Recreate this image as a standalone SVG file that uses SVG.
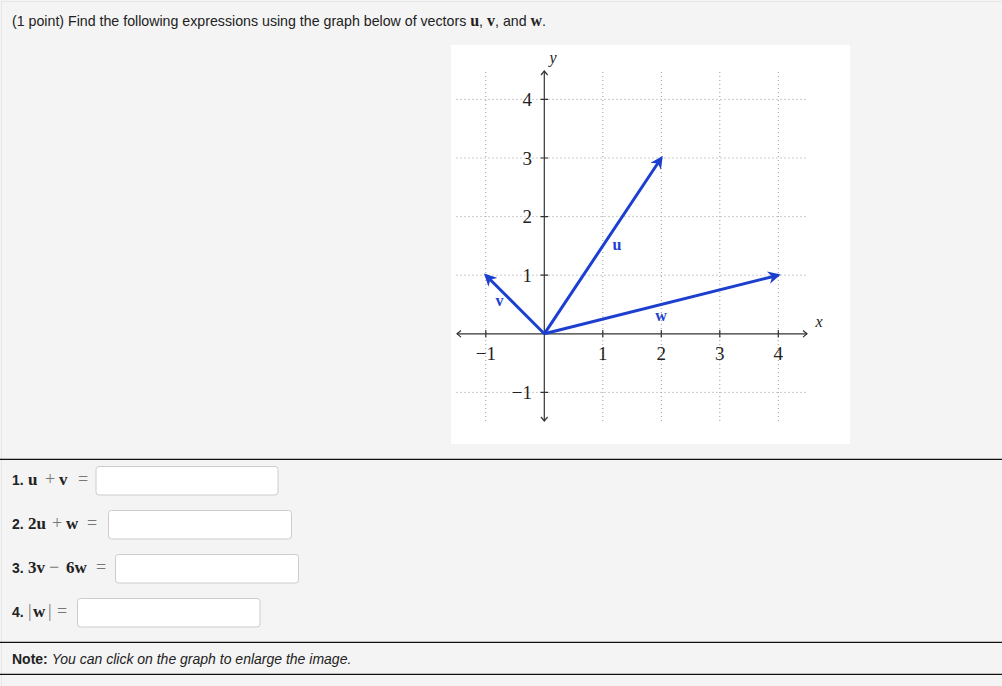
<svg xmlns="http://www.w3.org/2000/svg" width="1002" height="686" viewBox="0 0 1002 686">
<style>
.sans{font-family:"Liberation Sans",Arial,sans-serif;fill:#222}
.serif{font-family:"Liberation Serif","Times New Roman",serif}
.tick{font-family:"Liberation Serif","Times New Roman",serif;font-size:19px;fill:#222}
.grid{stroke:#999;stroke-width:1;stroke-dasharray:1 3;fill:none}
.axis{stroke:#333;stroke-width:1.2;fill:none}
.vec{stroke:#1c3fd0;stroke-width:3;fill:none;marker-end:url(#ah)}
.vlab{font-family:"Liberation Serif","Times New Roman",serif;font-weight:bold;font-size:16px;fill:#1c3fd0}
.mb{font-family:"Liberation Serif","Times New Roman",serif;font-weight:bold;font-size:17px;fill:#222}
.op{font-family:"Liberation Serif","Times New Roman",serif;font-size:18px;fill:#777}
.box{fill:#fff;stroke:#ccc;stroke-width:1}
.rule{stroke:#111;stroke-width:1.3}
</style>
<defs>
<marker id="ah" viewBox="0 0 10 10" refX="8" refY="5" markerWidth="4.2" markerHeight="4.2" orient="auto" markerUnits="strokeWidth">
<path d="M0,0 L10,5 L0,10 L3,5 Z" fill="#1c3fd0"/>
</marker>
</defs>
<rect x="0" y="0" width="1002" height="686" fill="#f4f4f4"/>
<path d="M1.5,686 V1.5 H1002" stroke="#e6e6e6" stroke-width="1" fill="none"/>
<text class="sans" x="12" y="26" font-size="14.2">(1 point) Find the following expressions using the graph below of vectors <tspan class="serif" font-weight="bold" font-size="16">u</tspan>, <tspan class="serif" font-weight="bold" font-size="16">v</tspan>, and <tspan class="serif" font-weight="bold" font-size="16">w</tspan>.</text>

<g id="graph">
<rect x="451" y="45" width="399" height="399" fill="#fff"/>
<g id="grid">
<path class="grid" d="M485.8,72 V421.7 M602.8,72 V421.7 M661.3,72 V421.7 M719.8,72 V421.7 M778.3,72 V421.7"/>
<path class="grid" d="M456.5,99.4 H807.6 M456.5,158 H807.6 M456.5,216.6 H807.6 M456.5,275.2 H807.6 M456.5,392.4 H807.6"/>
</g>
<g id="axes">
<path class="axis" d="M457,333.8 H807"/>
<path class="axis" d="M544.3,71 V421"/>
<path class="axis" d="M461,330.5 L457,333.8 L461,337.1 M803,330.5 L807,333.8 L803,337.1"/>
<path class="axis" d="M541,75 L544.3,71 L547.6,75 M541,417 L544.3,421 L547.6,417"/>
<path class="axis" d="M485.8,330 V337.6 M602.8,330 V337.6 M661.3,330 V337.6 M719.8,330 V337.6 M778.3,330 V337.6"/>
<path class="axis" d="M540.5,99.4 H548.1 M540.5,158 H548.1 M540.5,216.6 H548.1 M540.5,275.2 H548.1 M540.5,392.4 H548.1"/>
</g>
<g id="ticklabels">
<text class="tick" x="485.8" y="359.5" text-anchor="middle">−1</text>
<text class="tick" x="602.8" y="359.5" text-anchor="middle">1</text>
<text class="tick" x="661.3" y="359.5" text-anchor="middle">2</text>
<text class="tick" x="719.8" y="359.5" text-anchor="middle">3</text>
<text class="tick" x="778.3" y="359.5" text-anchor="middle">4</text>
<text class="tick" x="532" y="106" text-anchor="end">4</text>
<text class="tick" x="532" y="164.6" text-anchor="end">3</text>
<text class="tick" x="532" y="223.2" text-anchor="end">2</text>
<text class="tick" x="532" y="281.8" text-anchor="end">1</text>
<text class="tick" x="532" y="399" text-anchor="end">−1</text>
<text class="serif" x="553" y="63" font-size="16" font-style="italic" fill="#222" text-anchor="middle">y</text>
<text class="serif" x="819" y="327" font-size="16" font-style="italic" fill="#222" text-anchor="middle">x</text>
</g>
</g>

<g id="connectors">
<line class="vec" x1="544.3" y1="333.8" x2="661.3" y2="158"/>
<line class="vec" x1="544.3" y1="333.8" x2="485.8" y2="275.2"/>
<line class="vec" x1="544.3" y1="333.8" x2="778.3" y2="275.2"/>
</g>
<g id="node-u"><text class="vlab" x="617" y="250" text-anchor="middle">u</text></g>
<g id="node-v"><text class="vlab" x="499.5" y="306" text-anchor="middle">v</text></g>
<g id="node-w"><text class="vlab" x="661" y="321" text-anchor="middle">w</text></g>

<line class="rule" x1="0" y1="459.3" x2="1002" y2="459.3"/>

<g id="q1">
<text class="sans" x="12" y="485" font-size="14" font-weight="bold">1.</text>
<text class="mb" x="28" y="485">u</text><text class="op" x="45" y="485">+</text><text class="mb" x="59" y="485">v</text><text class="op" x="78" y="485">=</text>
<rect class="box" x="96" y="466.5" width="182" height="28.5" rx="3"/>
</g>
<g id="q2">
<text class="sans" x="12" y="529" font-size="14" font-weight="bold">2.</text>
<text class="mb" x="28" y="529">2u</text><text class="op" x="52" y="529">+</text><text class="mb" x="66" y="529">w</text><text class="op" x="87" y="529">=</text>
<rect class="box" x="108.5" y="510.5" width="183" height="28.5" rx="3"/>
</g>
<g id="q3">
<text class="sans" x="12" y="573" font-size="14" font-weight="bold">3.</text>
<text class="mb" x="28" y="573">3v</text><text class="op" x="49" y="573">−</text><text class="mb" x="66" y="573">6w</text><text class="op" x="96" y="573">=</text>
<rect class="box" x="115.5" y="554.5" width="183" height="28.5" rx="3"/>
</g>
<g id="q4">
<text class="sans" x="12" y="617" font-size="14" font-weight="bold">4.</text>
<text class="op" x="28" y="617">|</text><text class="mb" x="33" y="617">w</text><text class="op" x="48" y="617">|</text><text class="op" x="57" y="617">=</text>
<rect class="box" x="77.5" y="598.5" width="182.5" height="28.5" rx="3"/>
</g>

<line class="rule" x1="0" y1="642.3" x2="1002" y2="642.3"/>
<text class="sans" x="12" y="664" font-size="14"><tspan font-weight="bold">Note:</tspan> <tspan font-style="italic">You can click on the graph to enlarge the image.</tspan></text>
<line class="rule" x1="0" y1="674.3" x2="1002" y2="674.3"/>
</svg>
